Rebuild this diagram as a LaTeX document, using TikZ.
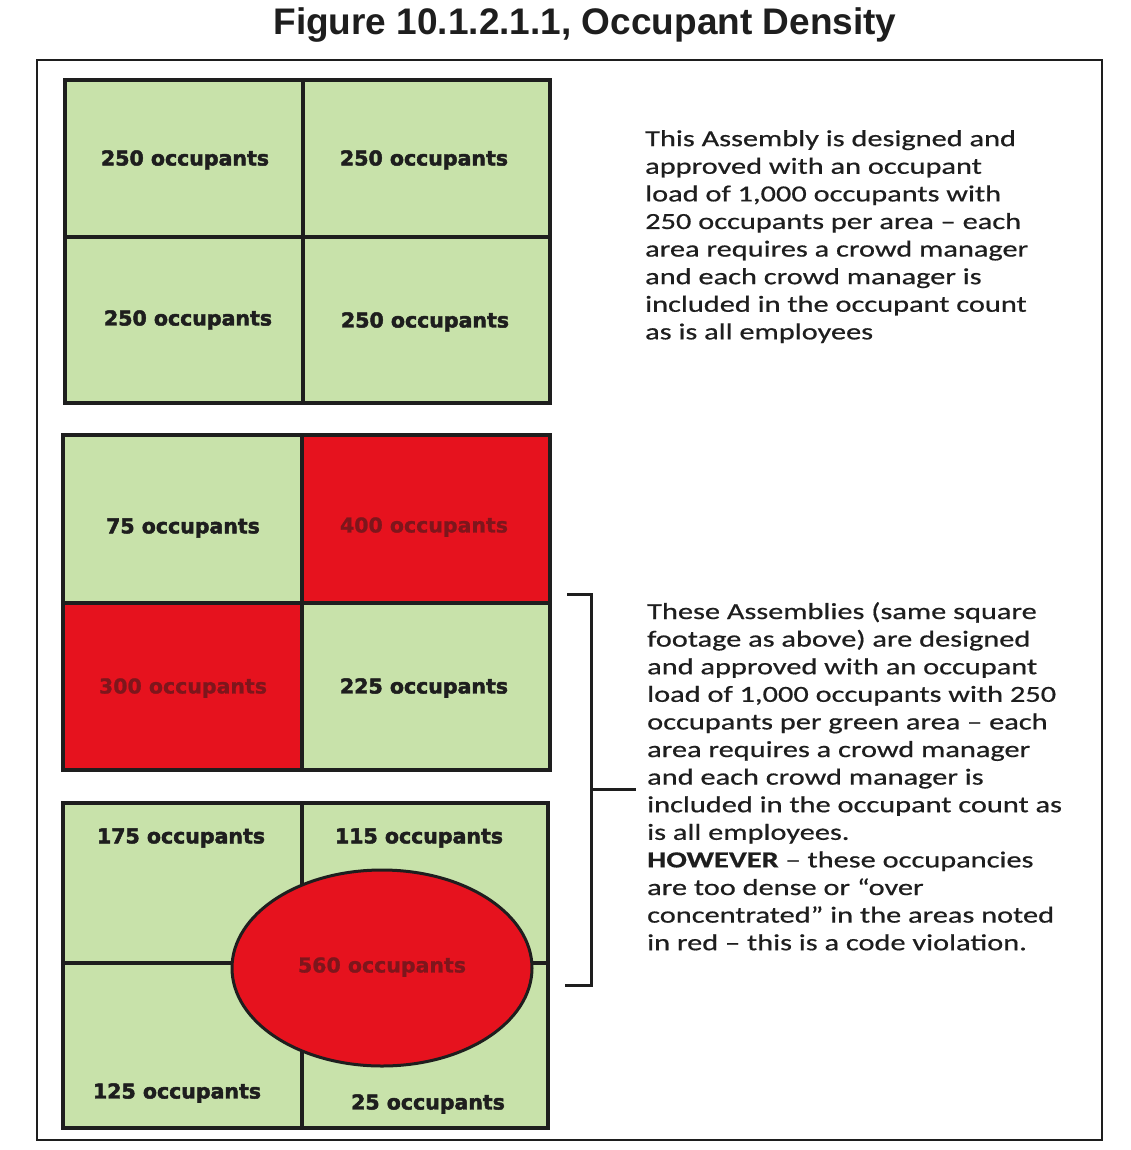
\documentclass[tikz,border=0pt]{standalone}
\usepackage{fontspec}
\usetikzlibrary{shapes.geometric}
\newfontfamily\titlefont{Liberation Sans}
\newfontfamily\lblfont[FakeBold=2.2]{DejaVu Sans Bold}
\newfontfamily\redlblfont[FakeBold=1]{DejaVu Sans Bold}
\newfontfamily\bodyfont[FakeStretch=1.32,FakeBold=0.6]{Carlito}
\definecolor{cellgreen}{RGB}{200,226,170}
\definecolor{cellred}{RGB}{230,18,30}
\definecolor{ink}{RGB}{30,30,30}
\definecolor{redink}{RGB}{125,22,28}
\tikzset{
  cell/.style={draw=ink, line width=4pt, inner sep=0pt, outer sep=0pt},
  green cell/.style={cell, fill=cellgreen},
  red cell/.style={cell, fill=cellred},
  lbl/.style={font=\lblfont\fontsize{20.5}{24}\selectfont, text=ink, inner sep=0pt},
  redlbl/.style={font=\redlblfont\fontsize{20.5}{24}\selectfont, text=redink, inner sep=0pt},
  para/.style={font=\bodyfont\fontsize{23}{27.6}\selectfont, text=ink, align=left, anchor=north west, inner sep=0pt},
  frame/.style={draw=ink, line width=2.5pt},
  bracket/.style={draw=ink, line width=3pt}
}
\begin{document}
\begin{tikzpicture}[x=1pt,y=-1pt]
\useasboundingbox[fill=white] (0,0) rectangle (1130,1150);
% title
\node[font=\titlefont\bfseries\fontsize{37}{40}\selectfont, text=ink, inner sep=0pt] (title) at (585,25) {Figure 10.1.2.1.1, Occupant Density};
% outer frame
\node[frame, minimum width=1065pt, minimum height=1080pt, inner sep=0pt] (outer) at (569.5,600) {};
% top grid
\node[green cell, minimum width=238pt, minimum height=157pt] (a1) at (184,158.5) {};
\node[green cell, minimum width=247pt, minimum height=157pt] (a2) at (426.5,158.5) {};
\node[green cell, minimum width=238pt, minimum height=166pt] (a3) at (184,320) {};
\node[green cell, minimum width=247pt, minimum height=166pt] (a4) at (426.5,320) {};
\node[lbl] (la1) at (185,160) {250 occupants};
\node[lbl] (la2) at (424,160) {250 occupants};
\node[lbl] (la3) at (188,320) {250 occupants};
\node[lbl] (la4) at (425,322) {250 occupants};
% middle grid
\node[green cell, minimum width=239pt, minimum height=168pt] (b1) at (182.5,519) {};
\node[red cell, minimum width=248pt, minimum height=168pt] (b2) at (426,519) {};
\node[red cell, minimum width=239pt, minimum height=167pt] (b3) at (182.5,686.5) {};
\node[green cell, minimum width=248pt, minimum height=167pt] (b4) at (426,686.5) {};
\node[lbl] (lb1) at (183,528) {75 occupants};
\node[redlbl] (lb2) at (424,527) {400 occupants};
\node[redlbl] (lb3) at (183,688) {300 occupants};
\node[lbl] (lb4) at (424,688) {225 occupants};
% bottom grid
\node[green cell, minimum width=239pt, minimum height=160pt] (c1) at (182.5,883) {};
\node[green cell, minimum width=246pt, minimum height=160pt] (c2) at (425,883) {};
\node[green cell, minimum width=239pt, minimum height=165pt] (c3) at (182.5,1045.5) {};
\node[green cell, minimum width=246pt, minimum height=165pt] (c4) at (425,1045.5) {};
\node[ellipse, draw=ink, line width=3pt, fill=cellred, minimum width=300pt, minimum height=196pt, inner sep=0pt] (ell) at (382,968) {};
\node[lbl] (lc1) at (181,838) {175 occupants};
\node[lbl] (lc2) at (419,838) {115 occupants};
\node[redlbl] (lc5) at (382,967) {560 occupants};
\node[lbl] (lc3) at (177,1093) {125 occupants};
\node[lbl] (lc4) at (428,1104) {25 occupants};
% text paragraphs
\node[para] (p1) at (645,130) {This Assembly is designed and\\
approved with an occupant\\
load of 1,000 occupants with\\
250 occupants per area – each\\
area requires a crowd manager\\
and each crowd manager is\\
included in the occupant count\\
as is all employees};
\node[para] (p2) at (647,602) {These Assemblies (same square\\
footage as above) are designed\\
and approved with an occupant\\
load of 1,000 occupants with 250\\
occupants per green area – each\\
area requires a crowd manager\\
and each crowd manager is\\
included in the occupant count as\\
is all employees.\\
{\bfseries HOWEVER} – these occupancies\\
are too dense or “over\\
concentrated” in the areas noted\\
in red – this is a code violation.};
% bracket
\coordinate (bt0) at (567,594);
\coordinate (bt1) at (591,594);
\coordinate (bb1) at (591,985);
\coordinate (bb0) at (565,985);
\coordinate (bm) at (591,789);
\coordinate (bmr) at (636,789);
\draw[bracket] (bt0) -- (bt1) -- (bb1) -- (bb0);
\draw[bracket] (bm) -- (bmr);
\end{tikzpicture}
\end{document}
